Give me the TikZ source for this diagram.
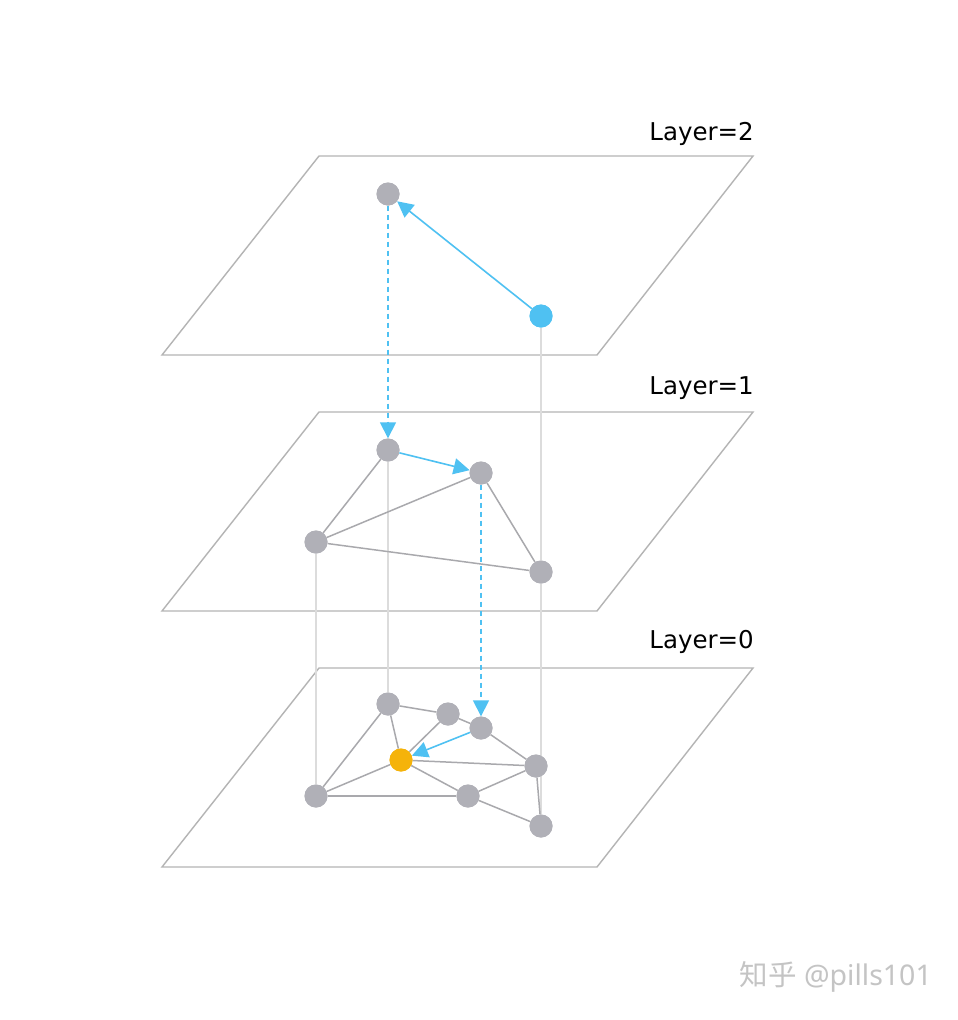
\documentclass[tikz,border=0pt]{standalone}
\usepackage{fontspec}
\setmainfont{DejaVu Sans}
\newfontfamily\wmfont{Noto Sans}
\newfontfamily\cjk{Noto Sans CJK SC}
\usetikzlibrary{arrows.meta}
\definecolor{plane}{HTML}{B4B4B4}
\definecolor{nodegray}{HTML}{B0B0B7}
\definecolor{edgegray}{HTML}{A9A9AD}
\definecolor{vert}{HTML}{DCDCDC}
\definecolor{hblue}{HTML}{4FC1F2}
\definecolor{horange}{HTML}{F5B30A}
\definecolor{wm}{HTML}{C4C4C4}
\begin{document}
\begin{tikzpicture}[x=1pt,y=-1pt,
  vtx/.style={circle,fill=nodegray,minimum size=23pt,inner sep=0pt},
  bluevtx/.style={circle,fill=hblue,minimum size=23pt,inner sep=0pt},
  orvtx/.style={circle,fill=horange,minimum size=23pt,inner sep=0pt},
  planeline/.style={draw=plane,line width=1.4pt,line join=miter},
  edge/.style={draw=edgegray,line width=1.5pt},
  vline/.style={draw=vert,line width=1.4pt},
  hop/.style={draw=hblue,line width=1.6pt,-{Triangle[length=16pt,width=16pt]}},
  down/.style={draw=hblue,line width=1.6pt,dash pattern=on 5pt off 4pt,-{Triangle[length=16pt,width=16pt]}},
  lbl/.style={anchor=base east,font=\fontsize{24.5}{29}\selectfont,text=black,inner sep=0pt}
]
\useasboundingbox (0,0) rectangle (958,1020);
\fill[white] (0,0) rectangle (958,1020);

% planes
\draw[planeline] (319,156) -- (753,156) -- (597,355) -- (162,355) -- cycle;
\draw[planeline] (319,412) -- (753,412) -- (597,611) -- (162,611) -- cycle;
\draw[planeline] (319,668) -- (753,668) -- (597,867) -- (162,867) -- cycle;

\node[lbl] (l2) at (754,140) {Layer=2};
\node[lbl] (l1) at (754,394) {Layer=1};
\node[lbl] (l0) at (754,648) {Layer=0};

% nodes layer 2
\node[vtx] (p) at (388,194) {};
\node[bluevtx] (q) at (541,316) {};
% layer 1
\node[vtx] (A) at (388,450) {};
\node[vtx] (B) at (481,473) {};
\node[vtx] (C) at (316,542) {};
\node[vtx] (D) at (541,572) {};
% layer 0
\node[vtx] (a) at (388,704) {};
\node[vtx] (b) at (448,714) {};
\node[vtx] (c) at (481,728) {};
\node[orvtx] (o) at (401,760) {};
\node[vtx] (d) at (536,766) {};
\node[vtx] (e) at (316,796) {};
\node[vtx] (f) at (468,796) {};
\node[vtx] (g) at (541,826) {};

% vertical links
\draw[vline] (q) -- (D);
\draw[vline] (D) -- (g);
\draw[vline] (C) -- (e);
\draw[vline] (A) -- (a);

% layer 1 edges
\draw[edge] (A) -- (C);
\draw[edge] (C) -- (B);
\draw[edge] (C) -- (D);
\draw[edge] (B) -- (D);

% layer 0 edges
\draw[edge] (a) -- (b);
\draw[edge] (b) -- (c);
\draw[edge] (a) -- (o);
\draw[edge] (a) -- (e);
\draw[edge] (b) -- (o);
\draw[edge] (c) -- (d);
\draw[edge] (o) -- (d);
\draw[edge] (o) -- (e);
\draw[edge] (o) -- (f);
\draw[edge] (e) -- (f);
\draw[edge] (f) -- (d);
\draw[edge] (f) -- (g);
\draw[edge] (d) -- (g);

% redraw nodes on top
\foreach \n in {p,A,B,C,D,a,b,c,d,e,f,g}{\fill[nodegray] (\n) circle (11.5pt);}
\fill[hblue] (q) circle (11.5pt);
\fill[horange] (o) circle (11.5pt);

% search path
\draw[hop] (q) -- (p);
\draw[down] (p) -- (A);
\draw[hop] (A) -- (B);
\draw[down] (B) -- (c);
\draw[hop] (c) -- (o);

\node[anchor=base east,inner sep=0pt,text=wm,font=\wmfont\fontsize{28.5}{33}\selectfont] (wmk) at (932,985) {{\cjk 知乎} @pills101};
\end{tikzpicture}
\end{document}
